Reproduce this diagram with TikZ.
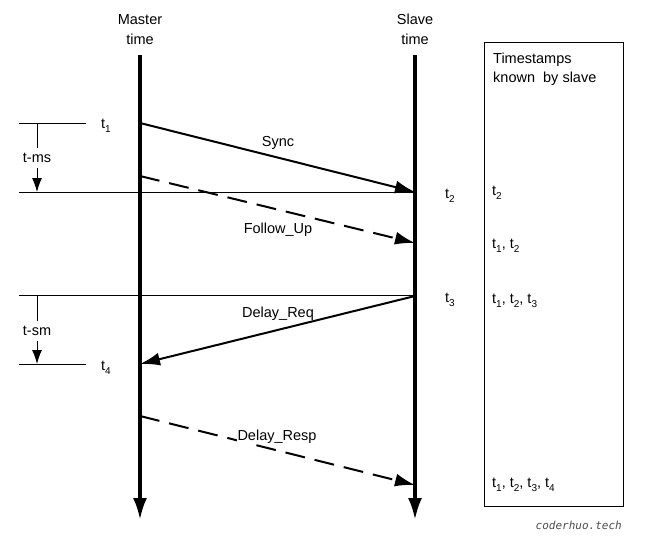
\documentclass[tikz,border=0pt]{standalone}
\usepackage{fontspec}
\setmainfont{Liberation Sans}
\newfontfamily\wmfont{DejaVu Sans Mono}
\usetikzlibrary{arrows.meta}
\newcommand\tsub[1]{t\raisebox{-4pt}{\fontsize{10}{10}\selectfont #1}}
\begin{document}
\begin{tikzpicture}[x=1pt,y=-1pt,
  font=\fontsize{14.5}{19}\selectfont,
  timeline/.style={line width=3.5pt,-{Latex[length=22pt,width=14pt]}},
  msg/.style={line width=2pt,-{Latex[length=20pt,width=13pt]}},
  dashmsg/.style={msg,dash pattern=on 20pt off 10pt},
  thinline/.style={line width=1pt},
  interval/.style={thinline,-{Latex[length=14pt,width=10pt]}},
  lbl/.style={inner sep=0pt,anchor=base},
  stamp/.style={inner sep=0pt,anchor=base west}]
\useasboundingbox (0,0) rectangle (648,550);
% time lines
\coordinate (mtop) at (140,55); \coordinate (mbot) at (140,520);
\coordinate (stop) at (415,55); \coordinate (sbot) at (415,520);
\draw[timeline] (mtop) -- (mbot);
\draw[timeline] (stop) -- (sbot);
\node[lbl] (mlab1) at (140,24.5) {Master};
\node[lbl] (mlab2) at (140,44) {time};
\node[lbl] (slab1) at (415,24.5) {Slave};
\node[lbl] (slab2) at (415,44) {time};
% event points
\coordinate (m1) at (140,123); \coordinate (s2) at (415,192);
\coordinate (m1f) at (140,176); \coordinate (s2f) at (415,243);
\coordinate (s3) at (415,296); \coordinate (m4) at (140,364);
\coordinate (m5) at (140,416); \coordinate (s5) at (415,485);
% horizontal reference lines
\coordinate (l1a) at (19,123); \coordinate (l1b) at (86,123);
\coordinate (l2a) at (19,192);
\coordinate (l3a) at (19,295); \coordinate (l3b) at (415,295);
\coordinate (l4a) at (19,364); \coordinate (l4b) at (86,364);
\draw[thinline] (l1a) -- (l1b);
\draw[thinline] (l2a) -- (s2);
\draw[thinline] (l3a) -- (l3b);
\draw[thinline] (l4a) -- (l4b);
% intervals
\coordinate (i1a) at (37,123); \coordinate (i1b) at (37,192);
\coordinate (i2a) at (37,295); \coordinate (i2b) at (37,364);
\draw[interval] (i1a) -- (i1b);
\draw[interval] (i2a) -- (i2b);
\node[fill=white,inner xsep=1pt,inner ysep=5pt] (tms) at (37,158) {t-ms};
\node[fill=white,inner xsep=1pt,inner ysep=5pt] (tsm) at (37,331) {t-sm};
% messages
\draw[msg] (m1) -- (s2);
\draw[dashmsg] (m1f) -- (s2f);
\draw[msg] (s3) -- (m4);
\draw[dashmsg] (m5) -- (s5);
\node[lbl] (sync) at (278,146) {Sync};
\node[lbl] (fup) at (278,233) {Follow\_Up};
\node[lbl] (dreq) at (278,317) {Delay\_Req};
\node[lbl,fill=white,inner sep=1pt] (dresp) at (277,440) {Delay\_Resp};
% timestamps
\node[stamp] (t1) at (101,128) {\tsub{1}};
\node[stamp] (t2) at (445,198) {\tsub{2}};
\node[stamp] (t3) at (445,302) {\tsub{3}};
\node[stamp] (t4) at (101,370) {\tsub{4}};
% known box
\node[draw,line width=1.2pt,minimum width=139pt,minimum height=464pt,anchor=north west,inner sep=0pt] (box) at (484,42) {};
\node[stamp] (kh1) at (493,63) {Timestamps};
\node[stamp] (kh2) at (493,82) {known\ \ by slave};
\node[stamp] (k2) at (492,195) {\tsub{2}};
\node[stamp] (k12) at (492,248) {\tsub{1}, \tsub{2}};
\node[stamp] (k123) at (492,303) {\tsub{1}, \tsub{2}, \tsub{3}};
\node[stamp] (k1234) at (492,487) {\tsub{1}, \tsub{2}, \tsub{3}, \tsub{4}};
% watermark
\node[anchor=east,inner sep=0pt,text=black!70,font=\wmfont\itshape\fontsize{11}{11}\selectfont] (wm) at (622,525) {coderhuo.tech};
\end{tikzpicture}
\end{document}
